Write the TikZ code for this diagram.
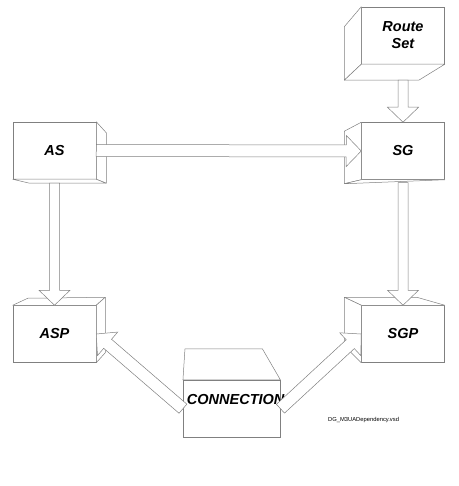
\documentclass[tikz,border=0pt]{standalone}
\usepackage{fontspec}
\setmainfont{Liberation Sans}
\usetikzlibrary{calc}
\definecolor{edgegray}{gray}{0.5}

% hollow block arrow: [shaft half width] from, to
\newcommand\blockarrow[3][6]{%
  \coordinate (hb) at ($(#3)!15pt!(#2)$);
  \draw[blockarr] ($(#2)!#1pt!90:(#3)$) -- ($(hb)!#1pt!90:(#3)$) -- ($(hb)!15.5pt!90:(#3)$)
    -- (#3) -- ($(hb)!15.5pt!-90:(#3)$) -- ($(hb)!#1pt!-90:(#3)$) -- ($(#2)!#1pt!-90:(#3)$) -- cycle;}

\begin{document}
\begin{tikzpicture}[x=1pt, y=-1pt,
  box/.style={draw=edgegray, fill=white, line width=0.5pt, minimum width=83pt, minimum height=57pt, inner sep=0pt},
  face/.style={draw=edgegray, fill=white, line width=0.5pt, line join=round},
  lbl/.style={font=\fontsize{14.5}{17}\selectfont\bfseries\itshape, align=center},
  blockarr/.style={draw=edgegray, fill=white, line width=0.5pt, line join=miter}]
  \useasboundingbox (0,0) rectangle (458,486);

  \node[box, lbl] (as) at (54.5,150.5) {AS};
  \draw[face] (as.north east) -- ++(10,11) -- ($(as.south east)+(10,4)$) -- (as.south east) -- cycle;
  \draw[face] (as.south west) -- ++(17,4) -- ($(as.south east)+(10,4)$) -- (as.south east) -- cycle;

  \node[box, lbl] (rs) at (403,35.5) {Route\\Set};
  \draw[face] (rs.north west) -- ++(-17,20) -- ($(rs.south west)+(-17,16)$) -- (rs.south west) -- cycle;
  \draw[face] ($(rs.south west)+(-17,16)$) -- ($(rs.south east)+(-26,16)$) -- (rs.south east) -- (rs.south west) -- cycle;

  \node[box, lbl] (sg) at (403,151) {SG};
  \draw[face] (sg.north west) -- ++(-17,9) -- ($(sg.south west)+(-17,4)$) -- (sg.south west) -- cycle;
  \draw[face] ($(sg.south west)+(-17,4)$) -- (sg.south east) -- (sg.south west) -- cycle;

  \node[box, lbl] (asp) at (54.5,334) {ASP};
  \draw[face] (asp.north west) -- ++(15,-7) -- ($(asp.north east)+(9,-8)$) -- (asp.north east) -- cycle;
  \draw[face] (asp.north east) -- ++(9,-8) -- ($(asp.south east)+(9,-10)$) -- (asp.south east) -- cycle;

  \node[box, lbl] (sgp) at (403,334) {SGP};
  \draw[face] (sgp.north west) -- ++(-17,-8) -- ($(sgp.north east)+(-28,-8)$) -- (sgp.north east) -- cycle;
  \draw[face] (sgp.north west) -- ++(-17,-8) -- ($(sgp.south west)+(-17,-17)$) -- (sgp.south west) -- cycle;

  \node[box, minimum width=97pt] (conn) at (231.7,408.7) {};
  \draw[face] (conn.north west) -- ++(2,-31) -- ($(conn.north east)+(-18,-31)$) -- (conn.north east) -- cycle;
  \node[lbl] (connlbl) at ($(conn.center)+(4,-9)$) {CONNECTION};

  \blockarrow[5]{$(rs.south)+(0,16)$}{sg.north}
  \blockarrow[6]{as.east}{sg.west}
  \blockarrow[5]{$(as.south)+(0,4)$}{asp.north}
  \blockarrow[5]{$(sg.south)+(0,3)$}{sgp.north}
  \blockarrow[6]{conn.west}{asp.east}
  \blockarrow[6]{conn.east}{sgp.west}

  \node[font=\fontsize{5.8}{7}\selectfont, anchor=west, inner sep=0pt] (vsd) at (328,420) {DG\_M3UADependency.vsd};
\end{tikzpicture}
\end{document}
